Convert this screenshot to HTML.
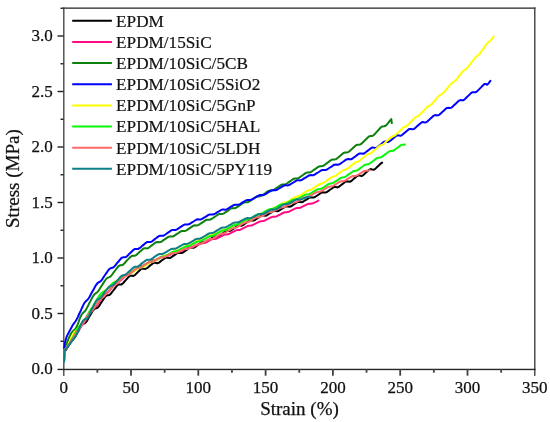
<!DOCTYPE html>
<html><head><meta charset="utf-8"><title>Stress-strain</title>
<style>html,body{margin:0;padding:0;background:#fff;overflow:hidden}svg{display:block}</style>
</head><body>
<svg width="550" height="422" viewBox="0 0 550 422">
<rect width="550" height="422" fill="#fff"/>
<g fill="#474747">
<rect x="63.1" y="7.4" width="1.4" height="368.5"/>
<rect x="534.05" y="7.4" width="1.45" height="368.5"/>
<rect x="63.1" y="7.4" width="472.4" height="1.5"/>
</g>
<rect x="57.5" y="368.75" width="478" height="1.4" fill="#262626"/>
<g fill="#404040"><rect x="130.10" y="369" width="1.8" height="6.7"/><rect x="197.40" y="369" width="1.8" height="6.7"/><rect x="264.70" y="369" width="1.8" height="6.7"/><rect x="332.00" y="369" width="1.8" height="6.7"/><rect x="399.30" y="369" width="1.8" height="6.7"/><rect x="466.60" y="369" width="1.8" height="6.7"/><rect x="96.45" y="369" width="1.8" height="3.7"/><rect x="163.75" y="369" width="1.8" height="3.7"/><rect x="231.05" y="369" width="1.8" height="3.7"/><rect x="298.35" y="369" width="1.8" height="3.7"/><rect x="365.65" y="369" width="1.8" height="3.7"/><rect x="432.95" y="369" width="1.8" height="3.7"/><rect x="500.25" y="369" width="1.8" height="3.7"/></g>
<g fill="#222"><rect x="57.5" y="312.80" width="6" height="1.4"/><rect x="57.5" y="257.30" width="6" height="1.4"/><rect x="57.5" y="201.80" width="6" height="1.4"/><rect x="57.5" y="146.30" width="6" height="1.4"/><rect x="57.5" y="90.80" width="6" height="1.4"/><rect x="57.5" y="35.30" width="6" height="1.4"/><rect x="60.5" y="340.55" width="3" height="1.4"/><rect x="60.5" y="285.05" width="3" height="1.4"/><rect x="60.5" y="229.55" width="3" height="1.4"/><rect x="60.5" y="174.05" width="3" height="1.4"/><rect x="60.5" y="118.55" width="3" height="1.4"/><rect x="60.5" y="63.05" width="3" height="1.4"/><rect x="60.5" y="7.55" width="3" height="1.4"/></g>
<g fill="none" stroke-width="2" stroke-linejoin="round" stroke-linecap="round">
<polyline stroke="#000000" points="64.0,362.0 64.5,352.1 65.2,350.9 66.0,349.8 66.8,348.6 67.5,347.4 68.2,346.2 69.0,344.9 69.8,343.7 70.5,342.5 71.2,341.5 72.0,340.6 72.8,339.8 73.5,339.0 74.2,338.1 75.0,337.0 75.8,335.8 76.5,334.4 77.2,333.1 78.0,331.8 78.8,330.5 79.5,329.1 80.2,327.7 81.0,326.3 81.8,325.1 82.5,324.3 83.2,323.7 84.0,323.5 84.8,323.2 85.5,322.7 86.2,321.9 87.0,320.8 87.8,319.4 88.5,318.1 89.2,316.8 90.0,315.6 91.5,313.1 93.0,310.6 94.5,308.8 96.0,308.3 97.5,307.8 99.0,306.1 100.5,303.7 102.0,301.5 103.5,299.3 105.0,297.0 106.5,295.5 108.0,295.2 109.5,295.0 111.0,293.6 112.5,291.5 114.0,289.6 115.5,287.6 117.0,285.6 118.5,284.4 120.0,284.4 121.5,284.4 123.0,283.3 124.5,281.5 126.0,279.8 127.5,278.2 129.0,276.5 130.5,275.5 132.0,275.7 133.5,275.9 135.0,275.0 136.5,273.4 138.0,272.0 139.5,270.6 141.0,269.1 142.5,268.4 144.0,268.7 145.5,268.9 147.0,268.2 148.5,266.9 150.0,265.6 151.5,264.5 153.0,263.2 154.5,262.6 156.0,262.9 157.5,263.2 159.0,262.6 160.5,261.4 162.0,260.3 163.5,259.2 165.0,258.1 166.5,257.5 168.0,257.8 169.5,258.1 171.0,257.5 172.5,256.4 174.0,255.4 175.5,254.4 177.0,253.3 178.5,252.7 180.0,252.9 181.5,253.1 183.0,252.5 184.5,251.4 186.0,250.3 187.5,249.3 189.0,248.1 190.5,247.5 192.0,247.6 193.5,247.8 195.0,247.1 196.5,246.0 198.0,244.9 199.5,243.8 201.0,242.7 202.5,242.0 204.0,242.1 205.5,242.3 207.0,241.6 208.5,240.4 210.0,239.3 211.5,238.3 213.0,237.1 214.5,236.4 216.0,236.6 217.5,236.7 219.0,236.0 220.5,234.8 222.0,233.8 223.5,232.7 225.0,231.5 226.5,230.9 228.0,231.0 229.5,231.1 231.0,230.5 232.5,229.3 234.0,228.3 235.5,227.2 237.0,226.1 238.5,225.5 240.0,225.6 241.5,225.7 243.0,225.1 244.5,224.0 246.0,223.0 247.5,221.9 249.0,220.8 250.5,220.2 252.0,220.4 253.5,220.6 255.0,220.0 256.5,218.9 258.0,217.9 259.5,216.9 261.0,215.9 262.5,215.3 264.0,215.5 265.5,215.8 267.0,215.2 268.5,214.2 270.0,213.2 271.5,212.3 273.0,211.2 274.5,210.7 276.0,211.0 277.5,211.2 279.0,210.7 280.5,209.7 282.0,208.7 283.5,207.8 285.0,206.8 286.5,206.3 288.0,206.5 289.5,206.8 291.0,206.3 292.5,205.3 294.0,204.3 295.5,203.4 297.0,202.3 298.5,201.8 300.0,202.1 301.5,202.3 303.0,201.8 304.5,200.7 306.0,199.8 307.5,198.8 309.0,197.8 310.5,197.2 312.0,197.4 313.5,197.6 315.0,197.0 316.5,196.0 318.0,195.0 319.5,194.0 321.0,192.9 322.5,192.3 324.0,192.4 325.5,192.6 327.0,192.0 328.5,190.9 330.0,189.8 331.5,188.7 333.0,187.6 334.5,186.9 336.0,187.1 337.5,187.4 339.0,186.8 340.5,185.5 342.0,184.4 343.5,183.2 345.0,181.9 346.5,181.3 348.0,181.5 349.5,181.8 351.0,181.2 352.5,179.9 354.0,178.6 355.5,177.4 357.0,176.0 358.5,175.3 360.0,175.6 361.5,176.0 363.0,175.3 364.5,173.9 366.0,172.6 367.5,171.2 369.0,169.8 370.5,169.1 372.0,169.4 373.5,169.8 375.0,169.1 376.5,167.6 378.0,166.2 379.5,164.8 381.0,163.3 382.1,162.6"/>
<polyline stroke="#FF0A82" points="64.0,362.0 64.5,351.2 65.2,350.1 66.0,349.0 66.8,347.9 67.5,346.8 68.2,345.6 69.0,344.5 69.8,343.4 70.5,342.4 71.2,341.4 72.0,340.4 72.8,339.3 73.5,338.2 74.2,337.0 75.0,335.7 75.8,334.5 76.5,333.2 77.2,332.0 78.0,330.6 78.8,329.3 79.5,328.0 80.2,326.9 81.0,326.0 81.8,325.2 82.5,324.5 83.2,323.8 84.0,322.9 84.8,321.8 85.5,320.5 86.2,319.3 87.0,318.0 87.8,316.8 88.5,315.6 89.2,314.4 90.0,313.1 91.5,310.8 93.0,309.0 94.5,307.8 96.0,306.4 97.5,304.3 99.0,302.1 100.5,300.0 102.0,297.8 103.5,295.8 105.0,294.3 106.5,293.4 108.0,292.3 109.5,290.6 111.0,288.7 112.5,287.0 114.0,285.2 115.5,283.5 117.0,282.4 118.5,281.9 120.0,281.1 121.5,279.8 123.0,278.2 124.5,276.8 126.0,275.3 127.5,273.9 129.0,273.1 130.5,272.8 132.0,272.3 133.5,271.3 135.0,270.0 136.5,268.8 138.0,267.7 139.5,266.5 141.0,265.9 142.5,265.8 144.0,265.5 145.5,264.7 147.0,263.6 148.5,262.7 150.0,261.7 151.5,260.8 153.0,260.3 154.5,260.3 156.0,260.1 157.5,259.4 159.0,258.5 160.5,257.7 162.0,256.9 163.5,256.1 165.0,255.8 166.5,255.8 168.0,255.6 169.5,255.0 171.0,254.2 172.5,253.5 174.0,252.8 175.5,252.0 177.0,251.7 178.5,251.7 180.0,251.5 181.5,250.9 183.0,250.1 184.5,249.4 186.0,248.7 187.5,248.0 189.0,247.6 190.5,247.6 192.0,247.4 193.5,246.8 195.0,246.0 196.5,245.3 198.0,244.5 199.5,243.8 201.0,243.4 202.5,243.3 204.0,243.1 205.5,242.5 207.0,241.7 208.5,241.0 210.0,240.2 211.5,239.4 213.0,239.0 214.5,239.0 216.0,238.8 217.5,238.1 219.0,237.3 220.5,236.6 222.0,235.8 223.5,235.0 225.0,234.6 226.5,234.6 228.0,234.3 229.5,233.7 231.0,232.9 232.5,232.1 234.0,231.3 235.5,230.6 237.0,230.1 238.5,230.1 240.0,229.9 241.5,229.2 243.0,228.4 244.5,227.6 246.0,226.9 247.5,226.1 249.0,225.7 250.5,225.6 252.0,225.4 253.5,224.7 255.0,223.9 256.5,223.2 258.0,222.4 259.5,221.6 261.0,221.2 262.5,221.1 264.0,220.9 265.5,220.2 267.0,219.4 268.5,218.7 270.0,217.9 271.5,217.1 273.0,216.7 274.5,216.7 276.0,216.5 277.5,215.8 279.0,215.0 280.5,214.3 282.0,213.5 283.5,212.7 285.0,212.3 286.5,212.3 288.0,212.1 289.5,211.4 291.0,210.7 292.5,209.9 294.0,209.2 295.5,208.4 297.0,208.0 298.5,208.0 300.0,207.8 301.5,207.2 303.0,206.4 304.5,205.7 306.0,204.9 307.5,204.2 309.0,203.8 310.5,203.8 312.0,203.6 313.5,203.0 315.0,202.3 316.5,201.6 318.0,200.8 318.4,200.6"/>
<polyline stroke="#0E800E" points="64.0,362.0 64.5,349.0 65.2,347.2 66.0,345.4 66.8,343.6 67.5,341.6 68.2,339.7 69.0,337.8 69.8,336.1 70.5,334.5 71.2,333.3 72.0,332.2 72.8,331.3 73.5,330.5 74.2,329.9 75.0,329.2 75.8,328.3 76.5,327.1 77.2,325.5 78.0,323.7 78.8,321.5 79.5,319.3 80.2,317.3 81.0,315.7 81.8,314.4 82.5,313.5 83.2,312.8 84.0,312.1 84.8,311.4 85.5,310.4 86.2,309.2 87.0,307.8 87.8,306.3 88.5,304.8 89.2,303.3 90.0,301.9 91.5,299.1 93.0,296.3 94.5,294.2 96.0,293.1 97.5,292.0 99.0,290.1 100.5,287.6 102.0,285.2 103.5,282.9 105.0,280.5 106.5,278.5 108.0,277.6 109.5,277.1 111.0,276.0 112.5,274.0 114.0,271.9 115.5,270.0 117.0,268.0 118.5,266.2 120.0,265.3 121.5,265.2 123.0,264.7 124.5,263.3 126.0,261.5 127.5,259.9 129.0,258.4 130.5,256.8 132.0,255.8 133.5,255.7 135.0,255.7 136.5,254.8 138.0,253.4 139.5,252.0 141.0,250.7 142.5,249.4 144.0,248.3 145.5,248.2 147.0,248.4 148.5,248.0 150.0,246.8 151.5,245.6 153.0,244.5 154.5,243.4 156.0,242.3 157.5,242.0 159.0,242.2 160.5,242.1 162.0,241.3 163.5,240.1 165.0,239.1 166.5,238.1 168.0,237.0 169.5,236.4 171.0,236.5 172.5,236.6 174.0,236.0 175.5,234.9 177.0,233.9 178.5,233.0 180.0,231.9 181.5,231.1 183.0,230.9 184.5,231.0 186.0,230.6 187.5,229.7 189.0,228.7 190.5,227.7 192.0,226.7 193.5,225.7 195.0,225.3 196.5,225.4 198.0,225.2 199.5,224.4 201.0,223.3 202.5,222.4 204.0,221.4 205.5,220.3 207.0,219.7 208.5,219.7 210.0,219.7 211.5,219.0 213.0,218.0 214.5,217.0 216.0,216.0 217.5,214.9 219.0,214.1 220.5,213.9 222.0,214.0 223.5,213.6 225.0,212.6 226.5,211.6 228.0,210.6 229.5,209.5 231.0,208.5 232.5,208.1 234.0,208.2 235.5,208.0 237.0,207.2 238.5,206.1 240.0,205.1 241.5,204.1 243.0,203.0 244.5,202.3 246.0,202.3 247.5,202.3 249.0,201.6 250.5,200.6 252.0,199.5 253.5,198.5 255.0,197.5 256.5,196.6 258.0,196.4 259.5,196.4 261.0,196.0 262.5,195.0 264.0,194.0 265.5,193.0 267.0,191.9 268.5,190.9 270.0,190.5 271.5,190.5 273.0,190.3 274.5,189.5 276.0,188.4 277.5,187.3 279.0,186.3 280.5,185.2 282.0,184.6 283.5,184.5 285.0,184.5 286.5,183.8 288.0,182.7 289.5,181.7 291.0,180.7 292.5,179.5 294.0,178.7 295.5,178.5 297.0,178.5 298.5,178.1 300.0,177.1 301.5,176.0 303.0,175.0 304.5,173.9 306.0,172.9 307.5,172.4 309.0,172.4 310.5,172.2 312.0,171.3 313.5,170.2 315.0,169.2 316.5,168.1 318.0,167.0 319.5,166.3 321.0,166.2 322.5,166.1 324.0,165.4 325.5,164.3 327.0,163.1 328.5,162.0 330.0,160.8 331.5,159.8 333.0,159.6 334.5,159.6 336.0,159.1 337.5,158.0 339.0,156.7 340.5,155.6 342.0,154.3 343.5,153.0 345.0,152.5 346.5,152.5 348.0,152.3 349.5,151.2 351.0,149.8 352.5,148.5 354.0,147.1 355.5,145.7 357.0,144.8 358.5,144.7 360.0,144.6 361.5,143.7 363.0,142.2 364.5,140.8 366.0,139.3 367.5,137.7 369.0,136.4 370.5,136.0 372.0,136.0 373.5,135.4 375.0,133.8 376.5,132.1 378.0,130.5 379.5,128.8 381.0,127.2 382.5,126.4 384.0,126.3 385.5,125.8 387.0,124.4 388.5,122.5 390.0,120.7 391.3,119.1 391.8,123.1"/>
<polyline stroke="#0000FF" points="64.0,362.0 64.3,347.4 65.0,342.7 65.8,339.5 66.5,337.2 67.3,335.4 68.0,333.9 68.8,332.5 69.5,331.1 70.3,329.7 71.0,328.3 71.8,326.9 72.5,325.5 73.3,324.4 74.0,323.3 74.8,322.3 75.5,321.3 76.3,320.0 77.0,318.6 77.8,317.1 78.5,315.4 79.3,313.8 80.0,312.2 80.8,310.6 81.5,308.9 82.3,307.3 83.0,305.6 83.8,304.1 84.5,302.8 85.3,301.8 86.0,301.0 86.8,300.4 87.5,299.7 88.3,298.8 89.0,297.7 89.8,296.4 90.0,296.0 91.5,293.1 93.0,290.4 94.5,287.7 96.0,285.1 97.5,283.1 99.0,282.2 100.5,281.3 102.0,279.6 103.5,277.2 105.0,275.0 106.5,272.9 108.0,270.7 109.5,268.9 111.0,268.1 112.5,267.8 114.0,266.9 115.5,265.1 117.0,263.2 118.5,261.5 120.0,259.7 121.5,258.0 123.0,257.3 124.5,257.3 126.0,257.0 127.5,255.7 129.0,254.1 130.5,252.7 132.0,251.2 133.5,249.8 135.0,248.9 136.5,249.0 138.0,249.0 139.5,248.2 141.0,246.9 142.5,245.6 144.0,244.4 145.5,243.1 147.0,242.1 148.5,242.0 150.0,242.1 151.5,241.7 153.0,240.6 154.5,239.4 156.0,238.3 157.5,237.1 159.0,236.0 160.5,235.7 162.0,235.8 163.5,235.7 165.0,234.8 166.5,233.7 168.0,232.6 169.5,231.6 171.0,230.5 172.5,229.9 174.0,230.0 175.5,230.0 177.0,229.4 178.5,228.4 180.0,227.4 181.5,226.4 183.0,225.4 184.5,224.6 186.0,224.5 187.5,224.6 189.0,224.3 190.5,223.4 192.0,222.4 193.5,221.5 195.0,220.5 196.5,219.6 198.0,219.3 199.5,219.5 201.0,219.4 202.5,218.6 204.0,217.7 205.5,216.8 207.0,215.8 208.5,214.9 210.0,214.4 211.5,214.4 213.0,214.5 214.5,214.0 216.0,213.1 217.5,212.2 219.0,211.3 220.5,210.3 222.0,209.6 223.5,209.5 225.0,209.7 226.5,209.4 228.0,208.6 229.5,207.6 231.0,206.7 232.5,205.8 234.0,204.9 235.5,204.7 237.0,204.8 238.5,204.8 240.0,204.1 241.5,203.1 243.0,202.2 244.5,201.3 246.0,200.4 247.5,199.9 249.0,199.9 250.5,200.0 252.0,199.5 253.5,198.6 255.0,197.7 256.5,196.8 258.0,195.8 259.5,195.1 261.0,195.0 262.5,195.2 264.0,194.9 265.5,194.1 267.0,193.1 268.5,192.2 270.0,191.3 271.5,190.4 273.0,190.1 274.5,190.3 276.0,190.2 277.5,189.5 279.0,188.5 280.5,187.6 282.0,186.7 283.5,185.8 285.0,185.2 286.5,185.3 288.0,185.4 289.5,184.8 291.0,183.9 292.5,183.0 294.0,182.1 295.5,181.1 297.0,180.3 298.5,180.2 300.0,180.4 301.5,180.1 303.0,179.2 304.5,178.2 306.0,177.3 307.5,176.3 309.0,175.5 310.5,175.1 312.0,175.3 313.5,175.2 315.0,174.4 316.5,173.4 318.0,172.5 319.5,171.5 321.0,170.5 322.5,170.0 324.0,170.0 325.5,170.1 327.0,169.5 328.5,168.5 330.0,167.5 331.5,166.6 333.0,165.5 334.5,164.7 336.0,164.6 337.5,164.8 339.0,164.5 340.5,163.6 342.0,162.5 343.5,161.5 345.0,160.4 346.5,159.4 348.0,159.0 349.5,159.3 351.0,159.3 352.5,158.5 354.0,157.3 355.5,156.3 357.0,155.1 358.5,154.0 360.0,153.4 361.5,153.6 363.0,153.8 364.5,153.2 366.0,152.0 367.5,150.9 369.0,149.8 370.5,148.5 372.0,147.6 373.5,147.6 375.0,148.0 376.5,147.8 378.0,146.6 379.5,145.4 381.0,144.2 382.5,142.9 384.0,141.8 385.5,141.5 387.0,141.9 388.5,141.9 390.0,141.0 391.5,139.7 393.0,138.5 394.5,137.2 396.0,135.9 397.5,135.2 399.0,135.5 400.5,135.8 402.0,135.1 403.5,133.8 405.0,132.5 406.5,131.2 408.0,129.9 409.5,128.9 411.0,128.9 412.5,129.2 414.0,128.9 415.5,127.7 417.0,126.3 418.5,125.0 420.0,123.7 421.5,122.4 423.0,122.0 424.5,122.4 426.0,122.3 427.5,121.3 429.0,119.9 430.5,118.6 432.0,117.2 433.5,115.8 435.0,115.1 436.5,115.2 438.0,115.4 439.5,114.6 441.0,113.2 442.5,111.8 444.0,110.5 445.5,109.0 447.0,107.9 448.5,107.8 450.0,108.1 451.5,107.6 453.0,106.3 454.5,104.8 456.0,103.4 457.5,102.0 459.0,100.6 460.5,100.1 462.0,100.3 463.5,100.2 465.0,99.0 466.5,97.5 468.0,96.1 469.5,94.6 471.0,93.1 472.5,92.2 474.0,92.3 475.5,92.3 477.0,91.4 478.5,89.9 480.0,88.4 481.5,86.9 483.0,85.3 484.5,84.1 486.0,83.9 487.0,84.8 488.5,83.4 490.4,80.9"/>
<polyline stroke="#FFFF00" points="64.0,362.0 64.5,350.0 65.2,349.6 66.0,348.8 66.8,347.7 67.5,346.3 68.2,344.6 69.0,342.9 69.8,341.2 70.5,339.5 71.2,337.8 72.0,336.2 72.8,334.7 73.5,333.4 74.2,332.3 75.0,331.5 75.8,330.7 76.5,329.9 77.2,329.1 78.0,328.2 78.8,327.2 79.5,326.2 80.2,325.3 81.0,324.5 81.8,323.7 82.5,323.0 83.2,322.1 84.0,321.2 84.8,320.2 85.5,319.1 86.2,318.0 87.0,316.8 87.8,315.5 88.5,314.2 89.2,312.7 90.0,311.2 91.5,308.4 93.0,306.3 94.5,304.4 96.0,302.1 97.5,299.6 99.0,297.2 100.5,295.0 102.0,292.9 103.5,291.3 105.0,290.3 106.5,289.5 108.0,288.2 109.5,286.7 111.0,285.2 112.5,283.8 114.0,282.4 115.5,281.3 117.0,280.8 118.5,280.5 120.0,279.6 121.5,278.4 123.0,277.2 124.5,276.1 126.0,274.9 127.5,274.1 129.0,273.8 130.5,273.5 132.0,272.8 133.5,271.7 135.0,270.7 136.5,269.6 138.0,268.5 139.5,267.7 141.0,267.5 142.5,267.2 144.0,266.5 145.5,265.5 147.0,264.5 148.5,263.5 150.0,262.5 151.5,261.7 153.0,261.5 154.5,261.2 156.0,260.5 157.5,259.6 159.0,258.6 160.5,257.7 162.0,256.7 163.5,256.0 165.0,255.7 166.5,255.5 168.0,254.8 169.5,253.9 171.0,253.0 172.5,252.1 174.0,251.2 175.5,250.5 177.0,250.2 178.5,249.9 180.0,249.3 181.5,248.4 183.0,247.6 184.5,246.8 186.0,245.9 187.5,245.2 189.0,244.9 190.5,244.6 192.0,244.0 193.5,243.2 195.0,242.3 196.5,241.5 198.0,240.6 199.5,240.0 201.0,239.7 202.5,239.4 204.0,238.8 205.5,238.0 207.0,237.2 208.5,236.3 210.0,235.5 211.5,234.8 213.0,234.5 214.5,234.3 216.0,233.7 217.5,232.9 219.0,232.0 220.5,231.2 222.0,230.4 223.5,229.7 225.0,229.4 226.5,229.2 228.0,228.6 229.5,227.8 231.0,226.9 232.5,226.1 234.0,225.3 235.5,224.6 237.0,224.3 238.5,224.0 240.0,223.5 241.5,222.6 243.0,221.8 244.5,220.9 246.0,220.1 247.5,219.4 249.0,219.1 250.5,218.8 252.0,218.2 253.5,217.4 255.0,216.5 256.5,215.7 258.0,214.8 259.5,214.1 261.0,213.8 262.5,213.5 264.0,212.8 265.5,212.0 267.0,211.1 268.5,210.2 270.0,209.3 271.5,208.6 273.0,208.3 274.5,207.9 276.0,207.3 277.5,206.4 279.0,205.5 280.5,204.6 282.0,203.6 283.5,202.9 285.0,202.5 286.5,202.2 288.0,201.5 289.5,200.6 291.0,199.6 292.5,198.7 294.0,197.7 295.5,197.0 297.0,196.6 298.5,196.2 300.0,195.5 301.5,194.5 303.0,193.5 304.5,192.6 306.0,191.6 307.5,190.8 309.0,190.3 310.5,189.9 312.0,189.1 313.5,188.1 315.0,187.1 316.5,186.1 318.0,185.1 319.5,184.2 321.0,183.7 322.5,183.3 324.0,182.5 325.5,181.5 327.0,180.4 328.5,179.4 330.0,178.2 331.5,177.3 333.0,176.8 334.5,176.4 336.0,175.6 337.5,174.4 339.0,173.3 340.5,172.2 342.0,171.0 343.5,170.1 345.0,169.6 346.5,169.1 348.0,168.3 349.5,167.1 351.0,165.9 352.5,164.7 354.0,163.4 355.5,162.4 357.0,161.9 358.5,161.5 360.0,160.5 361.5,159.3 363.0,158.0 364.5,156.7 366.0,155.4 367.5,154.4 369.0,153.8 370.5,153.4 372.0,152.4 373.5,151.0 375.0,149.7 376.5,148.4 378.0,147.0 379.5,145.8 381.0,145.3 382.5,144.8 384.0,143.8 385.5,142.3 387.0,140.9 388.5,139.5 390.0,138.0 391.5,136.9 393.0,136.3 394.5,135.7 396.0,134.6 397.5,133.1 399.0,131.6 400.5,130.2 402.0,128.6 403.5,127.4 405.0,126.7 406.5,126.1 408.0,124.9 409.5,123.3 411.0,121.8 412.5,120.3 414.0,118.6 415.5,117.3 417.0,116.6 418.5,115.9 420.0,114.6 421.5,113.0 423.0,111.4 424.5,109.8 426.0,108.1 427.5,106.7 429.0,105.9 430.5,105.1 432.0,103.8 433.5,102.0 435.0,100.3 436.5,98.6 438.0,96.9 439.5,95.4 441.0,94.5 442.5,93.6 444.0,92.2 445.5,90.4 447.0,88.6 448.5,86.9 450.0,85.0 451.5,83.4 453.0,82.4 454.5,81.5 456.0,80.0 457.5,78.1 459.0,76.2 460.5,74.4 462.0,72.4 463.5,70.8 465.0,69.7 466.5,68.6 468.0,67.1 469.5,65.1 471.0,63.1 472.5,61.1 474.0,59.1 475.5,57.3 477.0,56.2 478.5,55.0 480.0,53.3 481.5,51.2 483.0,49.2 484.5,47.1 486.0,45.0 487.5,43.1 489.0,41.8 490.5,40.6 492.0,38.8 493.5,36.6 493.6,36.5"/>
<polyline stroke="#0AF50A" points="64.0,362.0 64.5,350.0 65.2,349.2 66.0,348.2 66.8,347.2 67.5,346.1 68.2,345.1 69.0,344.0 69.8,342.9 70.5,341.6 71.2,340.4 72.0,339.0 72.8,337.7 73.5,336.3 74.2,334.9 75.0,333.4 75.8,331.9 76.5,330.5 77.2,329.1 78.0,328.0 78.8,327.0 79.5,326.3 80.2,325.5 81.0,324.6 81.8,323.6 82.5,322.5 83.2,321.4 84.0,320.3 84.8,319.3 85.5,318.2 86.2,317.1 87.0,315.9 87.8,314.6 88.5,313.2 89.2,311.9 90.0,310.7 91.5,308.7 93.0,306.5 94.5,303.7 96.0,300.9 97.5,298.5 99.0,296.2 100.5,294.1 102.0,292.6 103.5,291.8 105.0,291.0 106.5,289.6 108.0,287.9 109.5,286.4 111.0,284.9 112.5,283.4 114.0,282.4 115.5,282.1 117.0,281.6 118.5,280.5 120.0,279.1 121.5,277.8 123.0,276.5 124.5,275.2 126.0,274.4 127.5,274.2 129.0,273.9 130.5,272.9 132.0,271.7 133.5,270.6 135.0,269.4 136.5,268.3 138.0,267.7 139.5,267.6 141.0,267.3 142.5,266.5 144.0,265.4 145.5,264.4 147.0,263.4 148.5,262.4 150.0,261.9 151.5,261.8 153.0,261.6 154.5,260.8 156.0,259.8 157.5,258.9 159.0,258.0 160.5,257.1 162.0,256.6 163.5,256.5 165.0,256.3 166.5,255.6 168.0,254.6 169.5,253.8 171.0,252.9 172.5,252.0 174.0,251.5 175.5,251.4 177.0,251.1 178.5,250.4 180.0,249.6 181.5,248.7 183.0,247.9 184.5,247.0 186.0,246.5 187.5,246.3 189.0,246.1 190.5,245.4 192.0,244.5 193.5,243.7 195.0,242.8 196.5,242.0 198.0,241.4 199.5,241.3 201.0,241.0 202.5,240.3 204.0,239.4 205.5,238.6 207.0,237.7 208.5,236.8 210.0,236.2 211.5,236.0 213.0,235.8 214.5,235.0 216.0,234.1 217.5,233.2 219.0,232.3 220.5,231.4 222.0,230.8 223.5,230.6 225.0,230.3 226.5,229.5 228.0,228.6 229.5,227.7 231.0,226.8 232.5,225.8 234.0,225.3 235.5,225.0 237.0,224.7 238.5,224.0 240.0,223.0 241.5,222.1 243.0,221.2 244.5,220.3 246.0,219.7 247.5,219.5 249.0,219.2 250.5,218.4 252.0,217.5 253.5,216.6 255.0,215.7 256.5,214.8 258.0,214.2 259.5,214.1 261.0,213.8 262.5,213.1 264.0,212.2 265.5,211.3 267.0,210.4 268.5,209.6 270.0,209.1 271.5,208.9 273.0,208.7 274.5,208.0 276.0,207.1 277.5,206.3 279.0,205.5 280.5,204.7 282.0,204.2 283.5,204.1 285.0,203.8 286.5,203.2 288.0,202.3 289.5,201.6 291.0,200.7 292.5,199.9 294.0,199.4 295.5,199.3 297.0,199.1 298.5,198.4 300.0,197.6 301.5,196.8 303.0,195.9 304.5,195.1 306.0,194.6 307.5,194.4 309.0,194.2 310.5,193.5 312.0,192.6 313.5,191.7 315.0,190.8 316.5,189.9 318.0,189.3 319.5,189.1 321.0,188.8 322.5,188.1 324.0,187.1 325.5,186.2 327.0,185.2 328.5,184.2 330.0,183.6 331.5,183.4 333.0,183.0 334.5,182.2 336.0,181.2 337.5,180.2 339.0,179.1 340.5,178.1 342.0,177.4 343.5,177.2 345.0,176.9 346.5,176.0 348.0,174.9 349.5,173.8 351.0,172.8 352.5,171.7 354.0,171.0 355.5,170.8 357.0,170.5 358.5,169.6 360.0,168.4 361.5,167.3 363.0,166.2 364.5,165.0 366.0,164.4 367.5,164.2 369.0,163.9 370.5,163.0 372.0,161.8 373.5,160.7 375.0,159.5 376.5,158.4 378.0,157.7 379.5,157.6 381.0,157.4 382.5,156.4 384.0,155.2 385.5,154.1 387.0,153.0 388.5,151.8 390.0,151.1 391.5,151.1 393.0,150.8 394.5,150.0 396.0,148.8 397.5,147.7 399.0,146.6 400.5,145.4 402.0,144.8 403.5,144.8 404.9,144.6"/>
<polyline stroke="#FF6868" points="64.0,362.0 64.5,350.3 65.2,349.3 66.0,348.3 66.8,347.2 67.5,346.2 68.2,345.2 69.0,344.2 69.8,343.1 70.5,342.0 71.2,340.8 72.0,339.7 72.8,338.5 73.5,337.3 74.2,336.0 75.0,334.7 75.8,333.5 76.5,332.3 77.2,331.3 78.0,330.5 78.8,329.7 79.5,328.9 80.2,328.0 81.0,326.8 81.8,325.5 82.5,324.2 83.2,322.9 84.0,321.6 84.8,320.4 85.5,319.1 86.2,317.9 87.0,316.6 87.8,315.4 88.5,314.4 89.2,313.6 90.0,312.9 91.5,311.6 93.0,309.8 94.5,307.5 96.0,305.2 97.5,303.1 99.0,300.9 100.5,299.0 102.0,297.9 103.5,296.9 105.0,295.5 106.5,293.5 108.0,291.6 109.5,289.8 111.0,287.9 112.5,286.4 114.0,285.6 115.5,285.0 117.0,283.8 118.5,282.2 120.0,280.6 121.5,279.1 123.0,277.6 124.5,276.4 126.0,275.9 127.5,275.5 129.0,274.6 130.5,273.3 132.0,272.0 133.5,270.8 135.0,269.5 136.5,268.6 138.0,268.2 139.5,268.0 141.0,267.4 142.5,266.3 144.0,265.2 145.5,264.2 147.0,263.2 148.5,262.4 150.0,262.2 151.5,262.1 153.0,261.6 154.5,260.7 156.0,259.8 157.5,259.0 159.0,258.1 160.5,257.4 162.0,257.3 163.5,257.3 165.0,256.9 166.5,256.1 168.0,255.3 169.5,254.5 171.0,253.7 172.5,253.2 174.0,253.1 175.5,253.0 177.0,252.6 178.5,251.9 180.0,251.1 181.5,250.4 183.0,249.6 184.5,249.1 186.0,248.9 187.5,248.9 189.0,248.4 190.5,247.6 192.0,246.9 193.5,246.1 195.0,245.3 196.5,244.6 198.0,244.4 199.5,244.3 201.0,243.8 202.5,242.9 204.0,242.0 205.5,241.2 207.0,240.3 208.5,239.6 210.0,239.3 211.5,239.1 213.0,238.5 214.5,237.6 216.0,236.7 217.5,235.8 219.0,234.8 220.5,234.1 222.0,233.7 223.5,233.5 225.0,232.9 226.5,232.0 228.0,231.0 229.5,230.1 231.0,229.1 232.5,228.4 234.0,228.0 235.5,227.8 237.0,227.2 238.5,226.3 240.0,225.3 241.5,224.4 243.0,223.5 244.5,222.8 246.0,222.4 247.5,222.2 249.0,221.7 250.5,220.8 252.0,219.9 253.5,219.0 255.0,218.1 256.5,217.4 258.0,217.2 259.5,217.0 261.0,216.5 262.5,215.6 264.0,214.8 265.5,214.0 267.0,213.1 268.5,212.4 270.0,212.2 271.5,212.1 273.0,211.6 274.5,210.7 276.0,209.9 277.5,209.1 279.0,208.3 280.5,207.6 282.0,207.4 283.5,207.2 285.0,206.7 286.5,205.9 288.0,205.0 289.5,204.2 291.0,203.3 292.5,202.7 294.0,202.4 295.5,202.3 297.0,201.7 298.5,200.8 300.0,200.0 301.5,199.1 303.0,198.2 304.5,197.5 306.0,197.3 307.5,197.1 309.0,196.5 310.5,195.6 312.0,194.8 313.5,193.9 315.0,193.0 316.5,192.3 318.0,192.0 319.5,191.8 321.0,191.2 322.5,190.3 324.0,189.4 325.5,188.6 327.0,187.6 328.5,186.9 330.0,186.6 331.5,186.5 333.0,185.9 334.5,185.0 336.0,184.1 337.5,183.2 339.0,182.2 340.5,181.5 342.0,181.2 343.5,181.2 345.0,180.6 346.5,179.7 348.0,178.7 349.5,177.8 351.0,176.8 352.5,176.1 354.0,175.9 355.5,175.9 357.0,175.4 358.5,174.5 360.0,173.5 361.5,172.6 363.0,171.6 364.5,170.9 366.0,170.8 367.5,170.8 369.0,170.4 369.6,170.0"/>
<polyline stroke="#0E7E88" points="64.0,362.0 64.3,351.1 65.0,350.2 65.8,349.2 66.5,348.3 67.3,347.4 68.0,346.5 68.8,345.5 69.5,344.4 70.3,343.4 71.0,342.3 71.8,341.2 72.5,340.2 73.3,339.2 74.0,338.4 74.8,337.4 75.5,336.4 76.3,335.1 77.0,333.6 77.8,331.9 78.5,330.2 79.3,328.3 80.0,326.6 80.8,324.9 81.5,323.3 82.3,321.9 83.0,320.8 83.8,320.0 84.5,319.5 85.3,319.2 86.0,319.0 86.8,318.7 87.5,318.0 88.3,317.0 89.0,315.6 89.8,313.9 90.0,313.5 91.5,310.0 93.0,306.9 94.5,304.0 96.0,301.4 97.5,299.7 99.0,298.8 100.5,297.8 102.0,296.0 103.5,293.9 105.0,291.9 106.5,290.0 108.0,288.0 109.5,286.6 111.0,285.9 112.5,285.4 114.0,284.2 115.5,282.4 117.0,280.7 118.5,279.1 120.0,277.3 121.5,275.9 123.0,275.3 124.5,275.1 126.0,274.4 127.5,273.0 129.0,271.5 130.5,270.2 132.0,268.8 133.5,267.4 135.0,266.8 136.5,266.7 138.0,266.4 139.5,265.4 141.0,264.1 142.5,262.9 144.0,261.8 145.5,260.6 147.0,259.8 148.5,259.7 150.0,259.7 151.5,259.1 153.0,258.0 154.5,256.9 156.0,255.9 157.5,254.9 159.0,254.1 160.5,253.9 162.0,253.9 163.5,253.6 165.0,252.7 166.5,251.8 168.0,250.9 169.5,250.0 171.0,249.1 172.5,248.7 174.0,248.8 175.5,248.7 177.0,248.0 178.5,247.1 180.0,246.2 181.5,245.4 183.0,244.5 184.5,243.9 186.0,243.9 187.5,243.8 189.0,243.3 190.5,242.4 192.0,241.5 193.5,240.7 195.0,239.7 196.5,239.0 198.0,238.7 199.5,238.7 201.0,238.3 202.5,237.4 204.0,236.5 205.5,235.6 207.0,234.6 208.5,233.7 210.0,233.2 211.5,233.1 213.0,232.9 214.5,232.1 216.0,231.1 217.5,230.2 219.0,229.3 220.5,228.3 222.0,227.7 223.5,227.6 225.0,227.5 226.5,226.9 228.0,226.0 229.5,225.1 231.0,224.3 232.5,223.4 234.0,222.7 235.5,222.5 237.0,222.5 238.5,222.3 240.0,221.5 241.5,220.7 243.0,219.9 244.5,219.1 246.0,218.4 247.5,218.1 249.0,218.2 250.5,218.2 252.0,217.6 253.5,216.8 255.0,216.0 256.5,215.3 258.0,214.5 259.5,214.0 261.0,214.0 262.5,214.1 264.0,213.7 265.5,212.8 267.0,212.0 268.5,211.2 270.0,210.4 271.5,209.7 273.0,209.4 274.5,209.5 276.0,209.1 277.5,208.3 279.0,207.3 280.5,206.5 282.0,205.5 283.5,204.6 285.0,204.2 286.5,204.1 288.0,203.9 289.5,203.2 291.0,202.3 292.5,201.5 294.0,200.6 295.5,199.8 297.0,199.3 298.5,199.4 300.0,199.5 301.5,199.2 303.0,198.6 304.5,198.0 306.0,197.5 307.5,197.0 309.0,196.7 310.0,196.9"/>
</g>
<g font-family="Liberation Serif, Times New Roman, serif" font-size="17" fill="#111" stroke="#111" stroke-width="0.25">
<text x="63.7" y="393.3" text-anchor="middle">0</text>
<text x="131.0" y="393.3" text-anchor="middle">50</text>
<text x="198.3" y="393.3" text-anchor="middle">100</text>
<text x="265.6" y="393.3" text-anchor="middle">150</text>
<text x="332.9" y="393.3" text-anchor="middle">200</text>
<text x="400.2" y="393.3" text-anchor="middle">250</text>
<text x="467.5" y="393.3" text-anchor="middle">300</text>
<text x="534.8" y="393.3" text-anchor="middle">350</text>
<text x="52.8" y="374.2" text-anchor="end">0.0</text>
<text x="52.8" y="318.7" text-anchor="end">0.5</text>
<text x="52.8" y="263.2" text-anchor="end">1.0</text>
<text x="52.8" y="207.7" text-anchor="end">1.5</text>
<text x="52.8" y="152.2" text-anchor="end">2.0</text>
<text x="52.8" y="96.7" text-anchor="end">2.5</text>
<text x="52.8" y="41.2" text-anchor="end">3.0</text>
</g>
<g font-family="Liberation Serif, Times New Roman, serif" font-size="19" fill="#111" stroke="#111" stroke-width="0.25">
<text x="299.5" y="414.9" text-anchor="middle">Strain (%)</text>
<text transform="translate(19.0 178.6) rotate(-90)" text-anchor="middle">Stress (MPa)</text>
</g>
<path d="M72.2 20.80H111.9" stroke="#000000" stroke-width="2"/>
<path d="M72.2 41.95H111.9" stroke="#FF0A82" stroke-width="2"/>
<path d="M72.2 63.10H111.9" stroke="#0E800E" stroke-width="2"/>
<path d="M72.2 84.25H111.9" stroke="#0000FF" stroke-width="2"/>
<path d="M72.2 105.40H111.9" stroke="#FFFF00" stroke-width="2"/>
<path d="M72.2 126.55H111.9" stroke="#0AF50A" stroke-width="2"/>
<path d="M72.2 147.70H111.9" stroke="#FF6868" stroke-width="2"/>
<path d="M72.2 168.85H111.9" stroke="#0E7E88" stroke-width="2"/>
<g font-family="Liberation Serif, Times New Roman, serif" font-size="17.2" fill="#111" stroke="#111" stroke-width="0.2">
<text x="116.1" y="26.60">EPDM</text>
<text x="116.1" y="47.75">EPDM/15SiC</text>
<text x="116.1" y="68.90">EPDM/10SiC/5CB</text>
<text x="116.1" y="90.05">EPDM/10SiC/5SiO2</text>
<text x="116.1" y="111.20">EPDM/10SiC/5GnP</text>
<text x="116.1" y="132.35">EPDM/10SiC/5HAL</text>
<text x="116.1" y="153.50">EPDM/10SiC/5LDH</text>
<text x="116.1" y="174.65">EPDM/10SiC/5PY119</text>
</g>
</svg>
</body></html>
